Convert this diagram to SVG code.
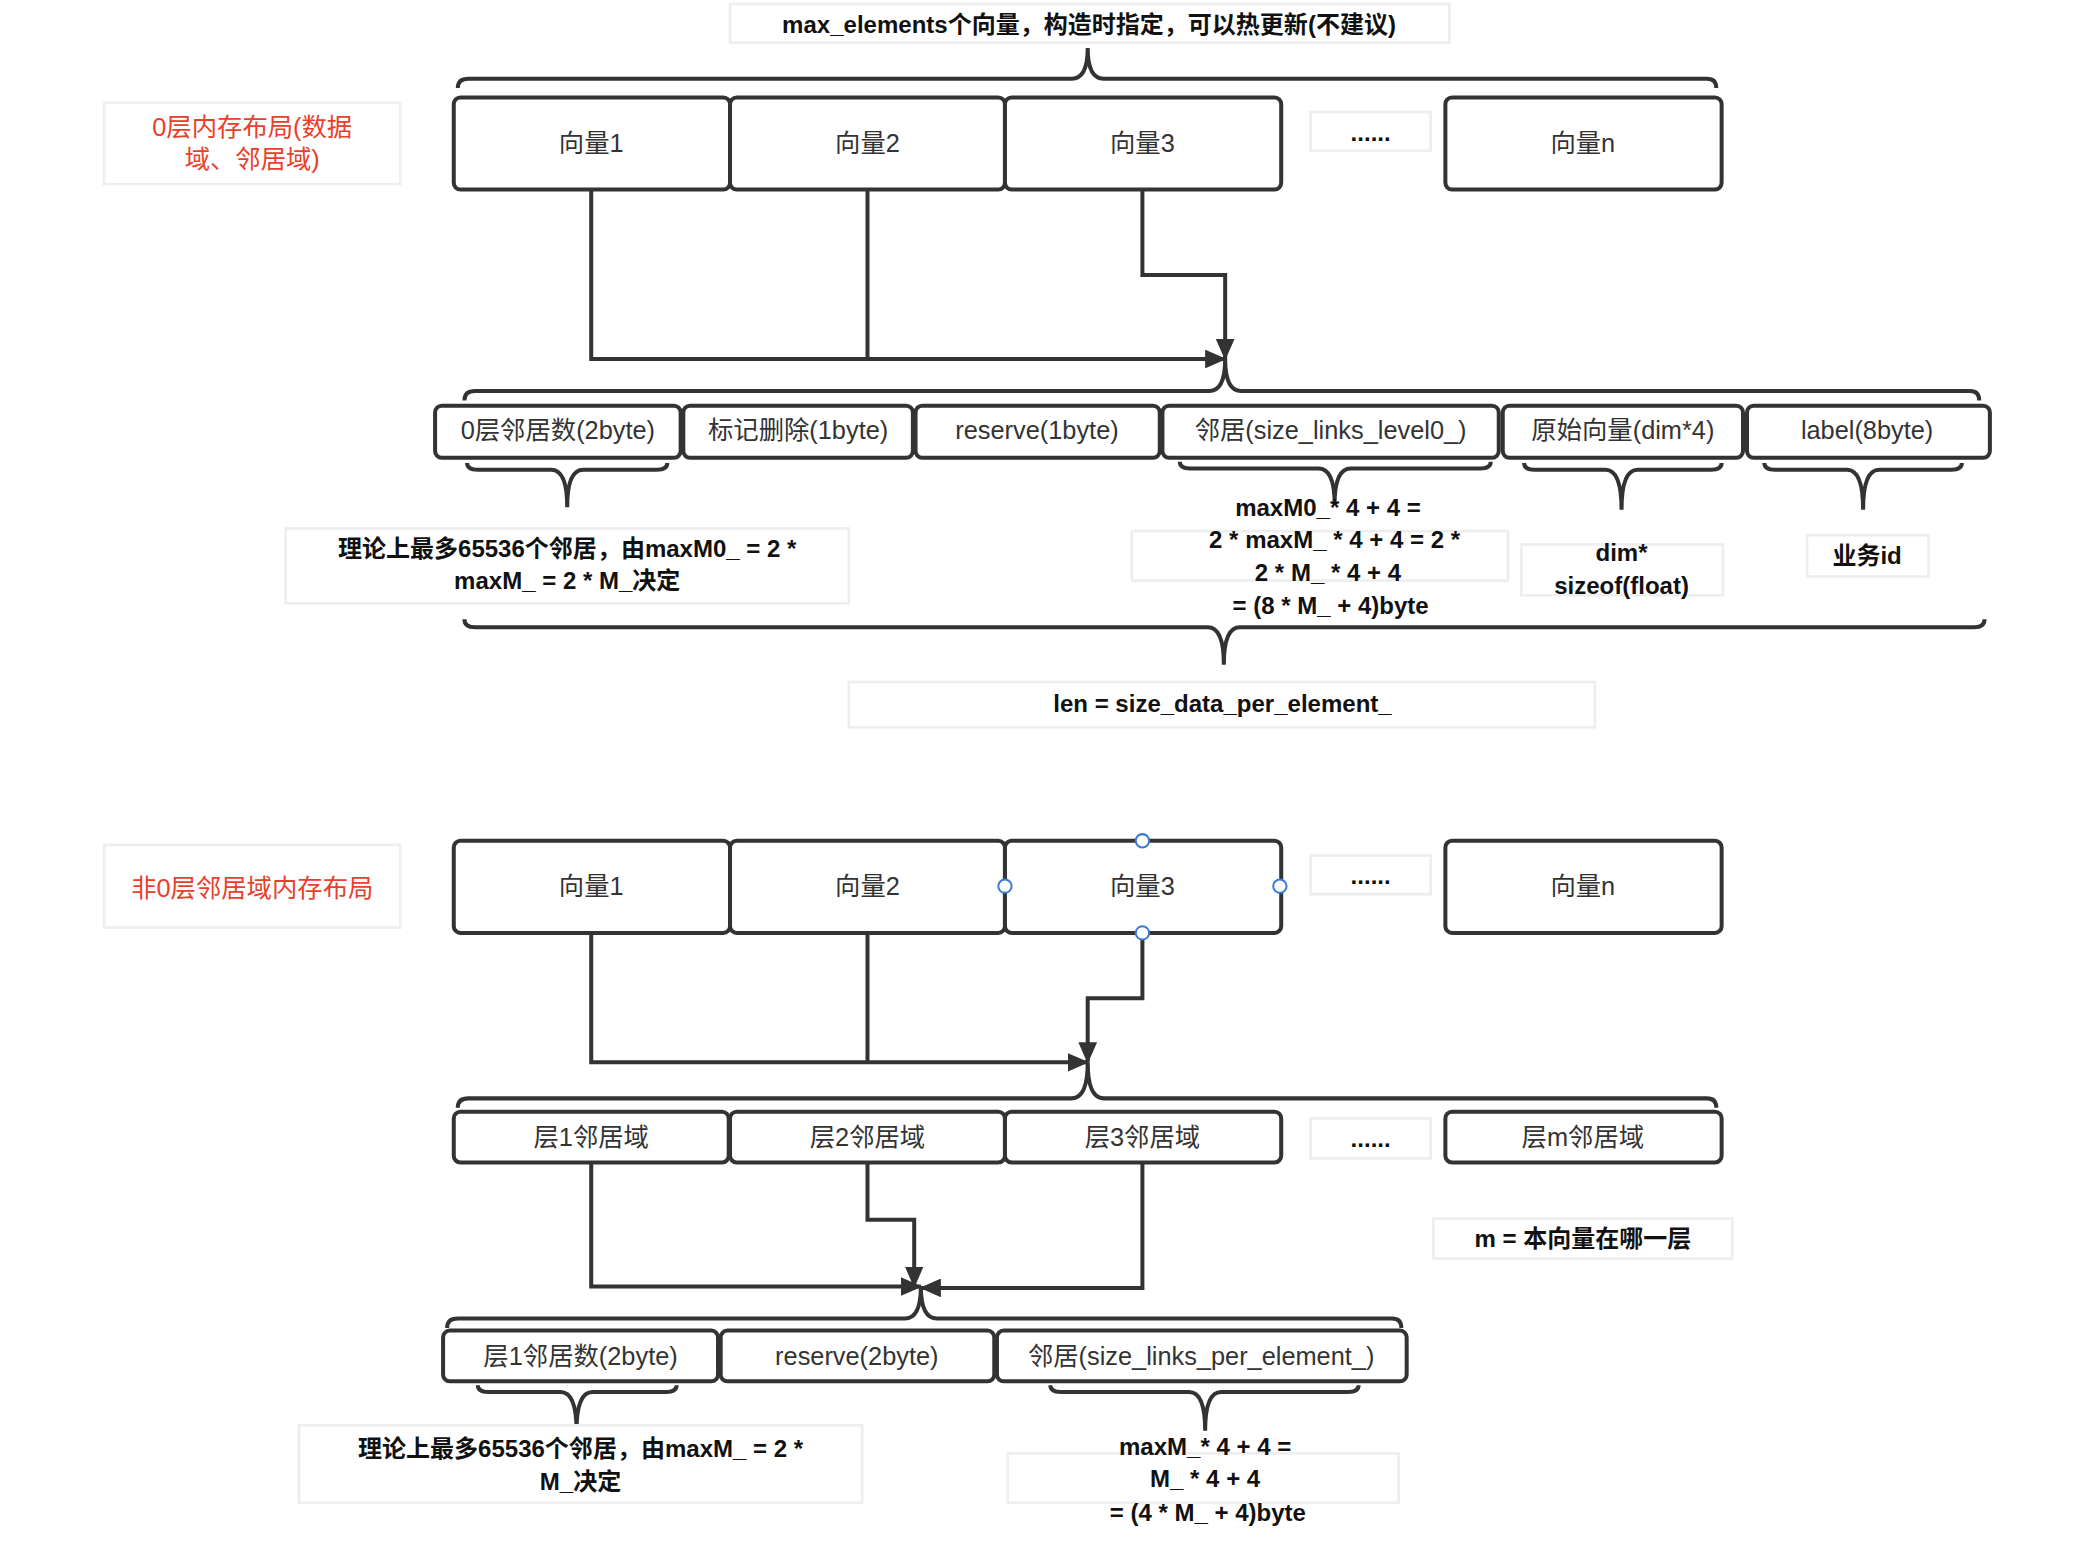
<svg xmlns="http://www.w3.org/2000/svg" width="2082" height="1562" viewBox="0 0 2082 1562">
<style>
.b{fill:#fff;stroke:#333;stroke-width:3}
.l{fill:#fff;stroke:#eee;stroke-width:2}
.t{font-family:"Liberation Sans","Noto Sans CJK SC",sans-serif;font-size:19px;fill:#333;text-anchor:middle;dominant-baseline:central}
.bt{font-family:"Liberation Sans","Noto Sans CJK SC",sans-serif;font-size:18px;font-weight:bold;fill:#111;text-anchor:middle;dominant-baseline:central}
.r{font-family:"Liberation Sans","Noto Sans CJK SC",sans-serif;font-size:19px;fill:#e8402b;text-anchor:middle;dominant-baseline:central}
.c{fill:none;stroke:#333;stroke-width:3}
.br{fill:none;stroke:#333;stroke-width:3}
.h{fill:#fff;stroke:#3a7bd5;stroke-width:1.5}
</style>
<defs>
<marker id="a" markerUnits="userSpaceOnUse" markerWidth="16" markerHeight="14" refX="15" refY="7" orient="auto"><path d="M0,0 L16,7 L0,14 Z" fill="#333"/></marker>
</defs>
<rect width="2082" height="1562" fill="#fff"/>
<g transform="scale(1.3346)">
<g id="connectors">
<path class="c" d="M443,142 V269 H918" marker-end="url(#a)"/>
<path class="c" d="M650,142 V269"/>
<path class="c" d="M856,142 V206 H918 V269" marker-end="url(#a)"/>
<path class="c" d="M443,699 V796 H815" marker-end="url(#a)"/>
<path class="c" d="M650,699 V796"/>
<path class="c" d="M856,699 V748 H815 V796" marker-end="url(#a)"/>
<path class="c" d="M443,871 V964 H690" marker-end="url(#a)"/>
<path class="c" d="M650,871 V914 H685 V964" marker-end="url(#a)"/>
<path class="c" d="M856,871 V965 H690" marker-end="url(#a)"/>
</g>
<g id="braces">
<path class="br" d="M343,66 Q343,59 351,59 L803,59 Q815,59 815,36 Q815,59 827,59 L1279,59 Q1286,59 1286,66"/>
<path class="br" d="M348,300 Q348,293 356,293 L906,293 Q918,293 918,269 Q918,293 930,293 L1476,293 Q1483,293 1483,300"/>
<path class="br" d="M350,347 Q350,352 358,352 L413,352 Q425,352 425,380 Q425,352 437,352 L492,352 Q500,352 500,347"/>
<path class="br" d="M884,346 Q884,351 892,351 L988,351 Q1000,351 1000,378 Q1000,351 1012,351 L1109,351 Q1117,351 1117,346"/>
<path class="br" d="M1142,347 Q1142,352 1150,352 L1203,352 Q1215,352 1215,382 Q1215,352 1227,352 L1282,352 Q1290,352 1290,347"/>
<path class="br" d="M1322,347 Q1322,352 1330,352 L1384,352 Q1396,352 1396,382 Q1396,352 1408,352 L1462,352 Q1470,352 1470,347"/>
<path class="br" d="M348,464 Q348,470 356,470 L905,470 Q917,470 917,498 Q917,470 929,470 L1479,470 Q1487,470 1487,464"/>
<path class="br" d="M343,830 Q343,823 351,823 L803,823 Q815,823 815,796 Q815,823 827,823 L1279,823 Q1286,823 1286,830"/>
<path class="br" d="M335,995 Q335,988 343,988 L678,988 Q690,988 690,964 Q690,988 702,988 L1043,988 Q1050,988 1050,995"/>
<path class="br" d="M358,1038 Q358,1043 366,1043 L420,1043 Q432,1043 432,1072 Q432,1043 444,1043 L499,1043 Q507,1043 507,1038"/>
<path class="br" d="M787,1038 Q787,1043 795,1043 L891,1043 Q903,1043 903,1072 Q903,1043 915,1043 L1010,1043 Q1018,1043 1018,1038"/>
</g>
<g id="title"><rect class="l" x="547" y="3" width="539" height="29"/><text class="bt" x="816" y="18">max_elements个向量，构造时指定，可以热更新(不建议)</text></g>
<g id="label0"><rect class="l" x="78" y="77" width="222" height="61"/><text class="r" x="189" y="95">0层内存布局(数据</text><text class="r" x="189" y="119">域、邻居域)</text></g>
<g id="v1"><rect class="b" x="340" y="73" width="207" height="69" rx="5"/><text class="t" x="443" y="107">向量1</text></g>
<g id="v2"><rect class="b" x="547" y="73" width="206" height="69" rx="5"/><text class="t" x="650" y="107">向量2</text></g>
<g id="v3"><rect class="b" x="753" y="73" width="207" height="69" rx="5"/><text class="t" x="856" y="107">向量3</text></g>
<g id="dots1"><rect class="l" x="982" y="84" width="90" height="29"/><text class="bt" x="1027" y="99">......</text></g>
<g id="vn"><rect class="b" x="1083" y="73" width="207" height="69" rx="5"/><text class="t" x="1186" y="107">向量n</text></g>
<g id="f1"><rect class="b" x="326" y="304" width="184" height="39" rx="5"/><text class="t" x="418" y="322">0层邻居数(2byte)</text></g>
<g id="f2"><rect class="b" x="512" y="304" width="172" height="39" rx="5"/><text class="t" x="598" y="322">标记删除(1byte)</text></g>
<g id="f3"><rect class="b" x="686" y="304" width="183" height="39" rx="5"/><text class="t" x="777" y="322">reserve(1byte)</text></g>
<g id="f4"><rect class="b" x="871" y="304" width="252" height="39" rx="5"/><text class="t" x="997" y="322">邻居(size_links_level0_)</text></g>
<g id="f5"><rect class="b" x="1126" y="304" width="180" height="39" rx="5"/><text class="t" x="1216" y="322">原始向量(dim*4)</text></g>
<g id="f6"><rect class="b" x="1309" y="304" width="182" height="39" rx="5"/><text class="t" x="1399" y="322">label(8byte)</text></g>
<g id="n1"><rect class="l" x="214" y="396" width="422" height="56"/><text class="bt" x="425" y="411">理论上最多65536个邻居，由maxM0_ = 2 *</text><text class="bt" x="425" y="435">maxM_ = 2 * M_决定</text></g>
<g id="n2"><rect class="l" x="848" y="398" width="282" height="37"/><text class="bt" x="995" y="380">maxM0_* 4 + 4 =</text><text class="bt" x="1000" y="404">2 * maxM_ * 4 + 4 =  2 *</text><text class="bt" x="995" y="429">2 * M_ * 4 + 4</text><text class="bt" x="997" y="454">= (8 * M_ + 4)byte</text></g>
<g id="n3"><rect class="l" x="1140" y="408" width="151" height="38"/><text class="bt" x="1215" y="414">dim*</text><text class="bt" x="1215" y="439">sizeof(float)</text></g>
<g id="n4"><rect class="l" x="1354" y="401" width="91" height="31"/><text class="bt" x="1399" y="416">业务id</text></g>
<g id="len"><rect class="l" x="636" y="511" width="559" height="34"/><text class="bt" x="916" y="527">len = size_data_per_element_</text></g>
<g id="label1"><rect class="l" x="78" y="633" width="222" height="62"/><text class="r" x="189" y="665">非0层邻居域内存布局</text></g>
<g id="w1"><rect class="b" x="340" y="630" width="207" height="69" rx="5"/><text class="t" x="443" y="664">向量1</text></g>
<g id="w2"><rect class="b" x="547" y="630" width="206" height="69" rx="5"/><text class="t" x="650" y="664">向量2</text></g>
<g id="w3"><rect class="b" x="753" y="630" width="207" height="69" rx="5"/><text class="t" x="856" y="664">向量3</text>
<circle class="h" cx="856" cy="630" r="5"/><circle class="h" cx="753" cy="664" r="5"/><circle class="h" cx="959" cy="664" r="5"/><circle class="h" cx="856" cy="699" r="5"/></g>
<g id="dots2"><rect class="l" x="982" y="641" width="90" height="29"/><text class="bt" x="1027" y="656">......</text></g>
<g id="wn"><rect class="b" x="1083" y="630" width="207" height="69" rx="5"/><text class="t" x="1186" y="664">向量n</text></g>
<g id="l1"><rect class="b" x="340" y="833" width="206" height="38" rx="5"/><text class="t" x="443" y="852">层1邻居域</text></g>
<g id="l2"><rect class="b" x="547" y="833" width="206" height="38" rx="5"/><text class="t" x="650" y="852">层2邻居域</text></g>
<g id="l3"><rect class="b" x="753" y="833" width="207" height="38" rx="5"/><text class="t" x="856" y="852">层3邻居域</text></g>
<g id="dots3"><rect class="l" x="982" y="838" width="90" height="30"/><text class="bt" x="1027" y="853">......</text></g>
<g id="lm"><rect class="b" x="1083" y="833" width="207" height="38" rx="5"/><text class="t" x="1186" y="852">层m邻居域</text></g>
<g id="mnote"><rect class="l" x="1074" y="913" width="224" height="30"/><text class="bt" x="1186" y="928">m = 本向量在哪一层</text></g>
<g id="g1"><rect class="b" x="332" y="997" width="206" height="38" rx="5"/><text class="t" x="435" y="1016">层1邻居数(2byte)</text></g>
<g id="g2"><rect class="b" x="540" y="997" width="205" height="38" rx="5"/><text class="t" x="642" y="1016">reserve(2byte)</text></g>
<g id="g3"><rect class="b" x="747" y="997" width="307" height="38" rx="5"/><text class="t" x="900" y="1016">邻居(size_links_per_element_)</text></g>
<g id="n5"><rect class="l" x="224" y="1068" width="422" height="58"/><text class="bt" x="435" y="1085">理论上最多65536个邻居，由maxM_ = 2 *</text><text class="bt" x="435" y="1110">M_决定</text></g>
<g id="n6"><rect class="l" x="755" y="1089" width="293" height="37"/><text class="bt" x="903" y="1084">maxM_* 4 + 4 =</text><text class="bt" x="903" y="1108">M_ * 4 + 4</text><text class="bt" x="905" y="1133">= (4 * M_ + 4)byte</text></g>
</g>
</svg>
